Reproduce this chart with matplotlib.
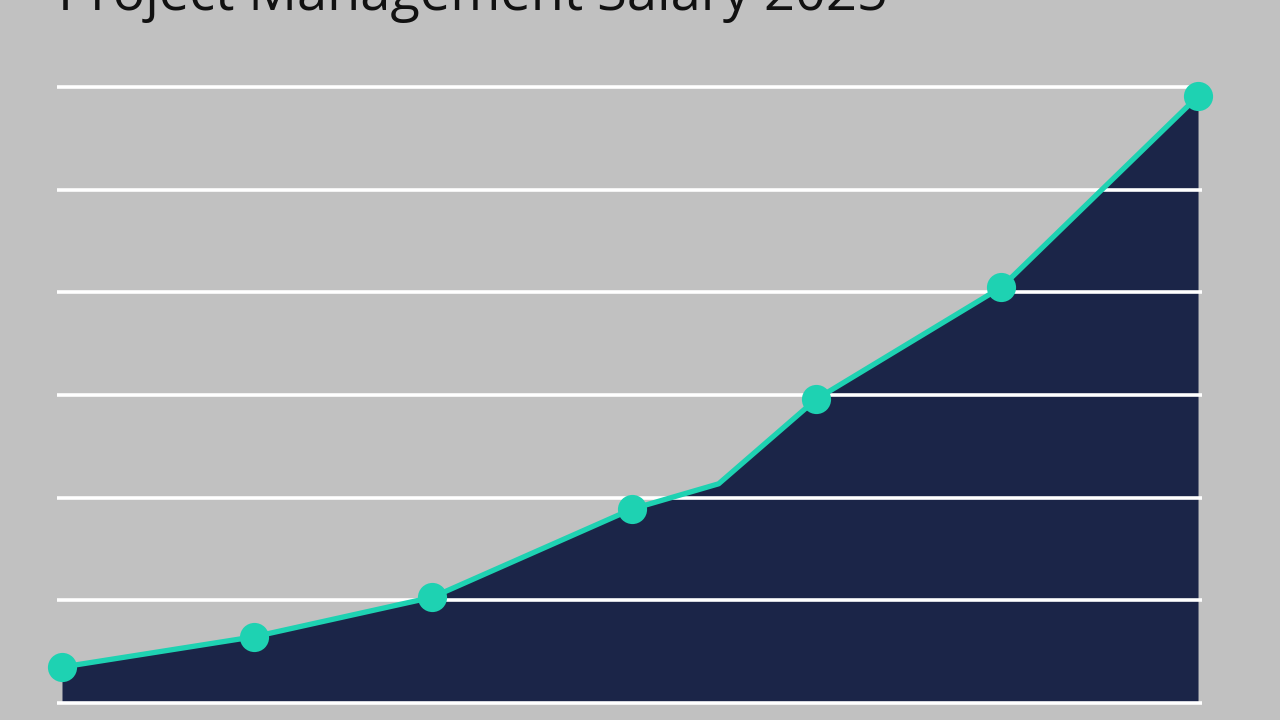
import numpy as np
import matplotlib.pyplot as plt

# data (salary in thousands, x = career position)
title = "Project Management Salary 2025"
xs = [0.0, 1.69, 3.26, 5.02, 5.78, 6.64, 8.27, 10.0]
salary = [7.0, 12.9, 20.6, 37.8, 42.7, 59.2, 81.0, 118.2]
marked = [True, True, True, True, False, True, True, True]
grid_vals = [0, 20, 40, 60, 80, 100, 120]

bg = "#c1c1c1"
navy = "#1b2548"
teal = "#1ed2b2"

fig = plt.figure(figsize=(12.8, 7.2), dpi=100, facecolor=bg)
ax = fig.add_axes([57/1280, 1-706/720, (1202-57)/1280, (706-80)/720])
ax.set_facecolor(bg)

ax.fill_between(xs, salary, 0, color=navy, zorder=1, linewidth=0)
for g in grid_vals:
    ax.axhline(g, color="white", linewidth=2.6, zorder=2)
ax.plot(xs, salary, color=teal, linewidth=3.8, zorder=3, solid_capstyle="round")
mx = [x for x, m in zip(xs, marked) if m]
my = [y for y, m in zip(salary, marked) if m]
ax.plot(mx, my, "o", color=teal, markersize=21, zorder=4, markeredgewidth=0,
        clip_on=False)

ax.set_xlim(-0.044, 10.035)
ax.set_ylim(-0.584, 121.36)
ax.set_xticks([])
ax.set_yticks([])
for s in ax.spines.values():
    s.set_visible(False)

fig.text(58/1280, 1-10/720, title, fontsize=39, color="#111111",
         family="Open Sans", va="baseline", ha="left")

fig.savefig("out.png", dpi=100, facecolor=bg)
